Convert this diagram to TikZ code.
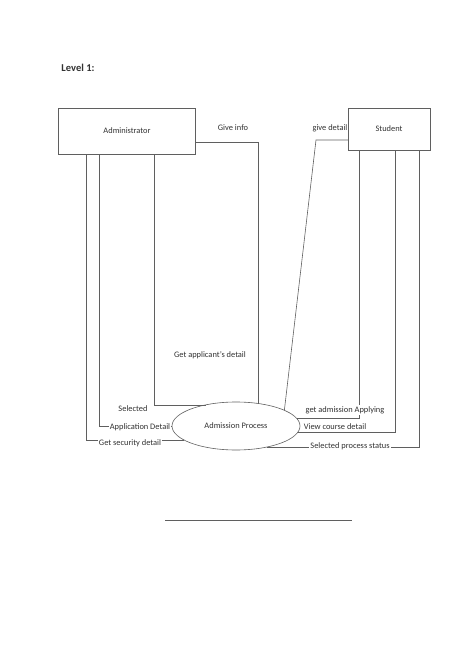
\documentclass[tikz,border=0pt]{standalone}
\usepackage{fontspec}
\setmainfont{Carlito}
\usepackage{tikz}
\usetikzlibrary{calc}
\usetikzlibrary{positioning}
\usetikzlibrary{shapes.geometric}
\definecolor{lineGrey}{RGB}{95,95,95}
\definecolor{textGrey}{RGB}{50,50,50}
\tikzstyle{entity} = [draw=lineGrey,line width=0.6pt,rectangle,inner sep=0pt,outer sep=0pt,text=textGrey,font=\fontsize{8.4}{10}\selectfont]
\tikzstyle{process} = [draw=lineGrey,line width=0.6pt,ellipse,inner sep=0pt,outer sep=0pt,minimum width=128pt,minimum height=48pt,text=textGrey,font=\fontsize{8.4}{10}\selectfont]
\tikzstyle{flow} = [draw=lineGrey,line width=0.6pt]
\tikzstyle{flowlabel} = [fill=white,inner sep=1pt,text=textGrey,font=\fontsize{8.4}{10}\selectfont]

\begin{document}
\begin{tikzpicture}[x=1pt,y=-1pt]

    \useasboundingbox (0,0) rectangle (474,669); % page size of the reference

    \node[font=\bfseries\fontsize{10.5}{12}\selectfont,text=textGrey] (title) at (78,68) {Level 1:};

    \node[entity,minimum width=137pt,minimum height=46pt] (admin)   at (127,131) {Administrator};
    \node[entity,minimum width=82pt,minimum height=42pt]  (student) at (389,129) {Student};
    \node[process] (proc) at (236,426) {Admission Process};

    % administrator side
    \draw[flow] ($(admin.east)+(0,11)$) -| (proc.45.6);
    \draw[flow] ([xshift=27pt]admin.south) |- (proc.145.9);
    \draw[flow] ([xshift=-28pt]admin.south) |- (proc.west);
    \draw[flow] ([xshift=-41pt]admin.south) |- (proc.195.1);

    % student side
    \draw[flow] ($(student.west)+(0,11)$) -- ++(-32,0) -- (proc.18.5);
    \draw[flow] ([xshift=-30pt]student.south) |- (proc.7.6);
    \draw[flow] ([xshift=6pt]student.south) |- (proc.-6.5);
    \draw[flow] ([xshift=30pt]student.south) |- (proc.-34.1);

    \node[flowlabel] (giveinfo)   at (233,128) {Give info};
    \node[flowlabel] (givedetail) at (330,128) {give detail};
    \node[flowlabel] (getapp)     at (210,355) {Get applicant's detail};
    \node[flowlabel] (selected)   at (133,409) {Selected};
    \node[flowlabel] (appdetail)  at (140,427) {Application Detail};
    \node[flowlabel] (security)   at (130,443) {Get security detail};
    \node[flowlabel] (applying)   at (345,410) {get admission Applying};
    \node[flowlabel] (course)     at (335,427) {View course detail};
    \node[flowlabel] (status)     at (350,446) {Selected process status};

    \coordinate (lineL) at (165,520);
    \coordinate (lineR) at (352,520);
    \draw[flow] (lineL) -- (lineR);

\end{tikzpicture}
\end{document}
